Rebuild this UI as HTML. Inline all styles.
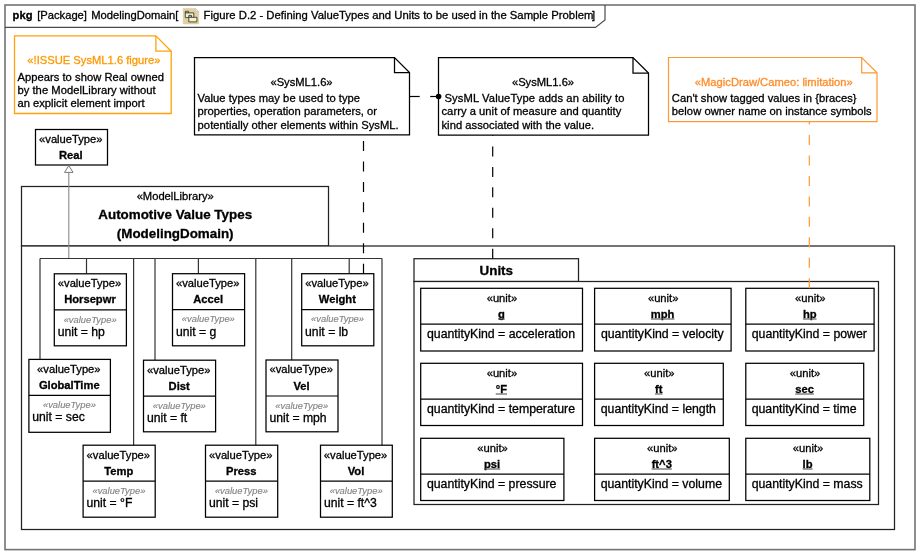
<!DOCTYPE html>
<html><head><meta charset="utf-8"><style>
html,body{margin:0;padding:0;background:#fff;}
svg{display:block;font-family:"Liberation Sans", sans-serif;will-change:transform;}

</style></head><body>
<svg width="920" height="555" viewBox="0 0 920 555">
<rect x="5" y="5" width="910" height="544.6" fill="#fff" stroke="#737373" stroke-width="1.6"/>
<path d="M5 27.4 H595.5 L605 19.9 V5" fill="none" stroke="#4a4a4a" stroke-width="1.2"/>
<text x="12.6" y="18.6" font-size="11.2" font-weight="bold" stroke="#000" stroke-width="0.3">pkg</text>
<text x="37.2" y="18.6" font-size="11.2" stroke="#000" stroke-width="0.3">[Package]</text>
<text x="91.3" y="18.6" font-size="11.2" stroke="#000" stroke-width="0.3">ModelingDomain[</text>
<g stroke-linejoin="round">
<path d="M183.2 8.4 H195.4 L198.7 11.6 V23.9 H183.2 Z" fill="#e2d1a0" stroke="#d6c590" stroke-width="0.5"/>
<path d="M195.4 8.4 V11.6 H198.7 Z" fill="#f4f4f4" stroke="#b0b0b0" stroke-width="0.5"/>
<rect x="185.3" y="11.3" width="3.3" height="1.7" fill="#f7f2c8" stroke="#3c3c3c" stroke-width="0.9"/>
<rect x="185.3" y="12.9" width="8.5" height="4.7" fill="#f7f2c8" stroke="#3c3c3c" stroke-width="0.9"/>
<rect x="188.8" y="15.4" width="2.7" height="2" fill="#cfcfae" stroke="#3c3c3c" stroke-width="0.9"/>
<rect x="188.8" y="17.3" width="8.1" height="4.6" fill="#f7f2c8" stroke="#3c3c3c" stroke-width="0.9"/>
</g>
<text x="203.6" y="18.6" font-size="11.3" stroke="#000" stroke-width="0.3">Figure D.2 - Defining ValueTypes and Units to be used in the Sample Problem</text>
<text x="592" y="18.6" font-size="11.2" stroke="#000" stroke-width="0.3">]</text>
<path d="M14.5 35.9 H155.9 L171.2 51.2 V113.5 H14.5 Z" fill="#fff" stroke="#ffa00c" stroke-width="1.3" stroke-linejoin="miter"/>
<path d="M155.9 35.9 V51.2 H171.2" fill="none" stroke="#ffa00c" stroke-width="1.3"/>
<text x="93.9" y="64.3" font-size="11.2" text-anchor="middle" fill="#ff9800" stroke="#ff9800" stroke-width="0.3">«!ISSUE SysML1.6 figure»</text>
<text x="17.4" y="80.6" font-size="11.2" stroke="#000" stroke-width="0.3" textLength="146.5" lengthAdjust="spacing">Appears to show Real owned</text>
<text x="17.4" y="93.6" font-size="11.2" stroke="#000" stroke-width="0.3" textLength="138.2" lengthAdjust="spacing">by the ModelLibrary without</text>
<text x="17.4" y="106.6" font-size="11.2" stroke="#000" stroke-width="0.3" textLength="127.3" lengthAdjust="spacing">an explicit element import</text>
<path d="M194.5 57.5 H394.5 L409.5 72.5 V134.8 H194.5 Z" fill="#fff" stroke="#000" stroke-width="1.25" stroke-linejoin="miter"/>
<path d="M394.5 57.5 V72.5 H409.5" fill="none" stroke="#000" stroke-width="1.25"/>
<text x="301.5" y="85.8" font-size="11.2" text-anchor="middle" stroke="#000" stroke-width="0.3">«SysML1.6»</text>
<text x="197.6" y="101.9" font-size="11.2" stroke="#000" stroke-width="0.3" textLength="162.5" lengthAdjust="spacing">Value types may be used to type</text>
<text x="197.6" y="115.25" font-size="11.2" stroke="#000" stroke-width="0.3" textLength="179.4" lengthAdjust="spacing">properties, operation parameters, or</text>
<text x="197.6" y="128.6" font-size="11.2" stroke="#000" stroke-width="0.3" textLength="201.1" lengthAdjust="spacing">potentially other elements within SysML.</text>
<path d="M438.5 57.5 H633.0 L648.5 73.0 V135 H438.5 Z" fill="#fff" stroke="#000" stroke-width="1.25" stroke-linejoin="miter"/>
<path d="M633.0 57.5 V73.0 H648.5" fill="none" stroke="#000" stroke-width="1.25"/>
<text x="543" y="85.8" font-size="11.2" text-anchor="middle" stroke="#000" stroke-width="0.3">«SysML1.6»</text>
<text x="444.5" y="101.9" font-size="11.2" stroke="#000" stroke-width="0.3" textLength="179.9" lengthAdjust="spacing">SysML ValueType adds an ability to</text>
<text x="441.5" y="115.25" font-size="11.2" stroke="#000" stroke-width="0.3" textLength="179.8" lengthAdjust="spacing">carry a unit of measure and quantity</text>
<text x="441.5" y="128.6" font-size="11.2" stroke="#000" stroke-width="0.3" textLength="152.7" lengthAdjust="spacing">kind associated with the value.</text>
<path d="M668.5 57.5 H861.7 L877 72.8 V121.7 H668.5 Z" fill="#fff" stroke="#ff9733" stroke-width="1.2" stroke-linejoin="miter"/>
<path d="M861.7 57.5 V72.8 H877" fill="none" stroke="#ff9733" stroke-width="1.2"/>
<text x="773.8" y="85.9" font-size="11.2" text-anchor="middle" fill="#ff8c28" stroke="#ff8c28" stroke-width="0.3">«MagicDraw/Cameo: limitation»</text>
<text x="671.8" y="102.3" font-size="11.2" stroke="#000" stroke-width="0.3" textLength="184.7" lengthAdjust="spacing">Can't show tagged values in {braces}</text>
<text x="671.8" y="115.3" font-size="11.2" stroke="#000" stroke-width="0.3" textLength="199.9" lengthAdjust="spacing">below owner name on instance symbols</text>
<line x1="409.5" y1="96.5" x2="419.7" y2="96.5" stroke="#000" stroke-width="1.2"/>
<line x1="430.2" y1="96.5" x2="438.6" y2="96.5" stroke="#000" stroke-width="1.2"/>
<circle cx="438.6" cy="96.5" r="2.8" fill="#000"/>
<rect x="35.5" y="129.5" width="72" height="35.5" fill="#fff" stroke="#000" stroke-width="1.25"/>
<text x="70.8" y="142.6" font-size="11.2" text-anchor="middle" stroke="#000" stroke-width="0.3">«valueType»</text>
<text x="70.8" y="158.7" font-size="11.2" font-weight="bold" text-anchor="middle" stroke="#000" stroke-width="0.3">Real</text>
<rect x="21.5" y="186.5" width="307" height="59.5" fill="#fff" stroke="#222" stroke-width="1.25"/>
<rect x="21.5" y="246" width="873" height="283.5" fill="#fff" stroke="#222" stroke-width="1.25"/>
<text x="175.2" y="200.1" font-size="11.2" text-anchor="middle" stroke="#000" stroke-width="0.3">«ModelLibrary»</text>
<text x="175.2" y="219" font-size="13.4" font-weight="bold" text-anchor="middle" stroke="#000" stroke-width="0.3">Automotive Value Types</text>
<text x="175.2" y="238.4" font-size="13.4" font-weight="bold" text-anchor="middle" stroke="#000" stroke-width="0.3">(ModelingDomain)</text>
<line x1="68.8" y1="172.4" x2="68.8" y2="258.5" stroke="#888" stroke-width="1.1"/>
<path d="M68.8 165.6 L73 172.4 H64.5 Z" fill="#fff" stroke="#777" stroke-width="1"/>
<line x1="40" y1="258.5" x2="382" y2="258.5" stroke="#333" stroke-width="1.2"/>
<line x1="40" y1="258.5" x2="40" y2="359.4" stroke="#333" stroke-width="1.2"/>
<line x1="86.5" y1="258.5" x2="86.5" y2="273.8" stroke="#333" stroke-width="1.2"/>
<line x1="133.6" y1="258.5" x2="133.6" y2="445.2" stroke="#333" stroke-width="1.2"/>
<line x1="155" y1="258.5" x2="155" y2="360.2" stroke="#333" stroke-width="1.2"/>
<line x1="198.4" y1="258.5" x2="198.4" y2="273.7" stroke="#333" stroke-width="1.2"/>
<line x1="255.8" y1="258.5" x2="255.8" y2="445.2" stroke="#333" stroke-width="1.2"/>
<line x1="291.7" y1="258.5" x2="291.7" y2="360" stroke="#333" stroke-width="1.2"/>
<line x1="349.2" y1="258.5" x2="349.2" y2="273.7" stroke="#333" stroke-width="1.2"/>
<line x1="382" y1="258.5" x2="382" y2="445.2" stroke="#333" stroke-width="1.2"/>
<rect x="414" y="258.7" width="164.5" height="22.8" fill="#fff" stroke="#222" stroke-width="1.25"/>
<rect x="414" y="281.5" width="464.5" height="223" fill="#fff" stroke="#222" stroke-width="1.25"/>
<text x="496.3" y="274.8" font-size="13.4" font-weight="bold" text-anchor="middle" stroke="#000" stroke-width="0.3">Units</text>
<rect x="54.3" y="273.8" width="72.10000000000001" height="72.0" fill="#fff" stroke="#000" stroke-width="1.25"/>
<line x1="54.3" y1="309.8" x2="126.4" y2="309.8" stroke="#000" stroke-width="1.2"/>
<text x="89.55" y="287.2" font-size="11.2" text-anchor="middle" stroke="#000" stroke-width="0.3">«valueType»</text>
<text x="89.95" y="303.4" font-size="11.2" font-weight="bold" text-anchor="middle" stroke="#000" stroke-width="0.3">Horsepwr</text>
<text x="90.15" y="322.5" font-size="9.4" font-style="italic" text-anchor="middle" fill="#858585" stroke="#858585" stroke-width="0.15">«valueType»</text>
<text x="57.7" y="335.7" font-size="12.2" stroke="#000" stroke-width="0.3">unit = hp</text>
<rect x="172.5" y="273.7" width="72.1" height="72.10000000000002" fill="#fff" stroke="#000" stroke-width="1.25"/>
<line x1="172.5" y1="309.7" x2="244.6" y2="309.7" stroke="#000" stroke-width="1.2"/>
<text x="207.75" y="287.1" font-size="11.2" text-anchor="middle" stroke="#000" stroke-width="0.3">«valueType»</text>
<text x="208.15" y="303.3" font-size="11.2" font-weight="bold" text-anchor="middle" stroke="#000" stroke-width="0.3">Accel</text>
<text x="208.35" y="322.4" font-size="9.4" font-style="italic" text-anchor="middle" fill="#858585" stroke="#858585" stroke-width="0.15">«valueType»</text>
<text x="175.9" y="335.6" font-size="12.2" stroke="#000" stroke-width="0.3">unit = g</text>
<rect x="301.7" y="273.7" width="72.10000000000002" height="72.10000000000002" fill="#fff" stroke="#000" stroke-width="1.25"/>
<line x1="301.7" y1="309.7" x2="373.8" y2="309.7" stroke="#000" stroke-width="1.2"/>
<text x="336.95" y="287.1" font-size="11.2" text-anchor="middle" stroke="#000" stroke-width="0.3">«valueType»</text>
<text x="337.35" y="303.3" font-size="11.2" font-weight="bold" text-anchor="middle" stroke="#000" stroke-width="0.3">Weight</text>
<text x="337.55" y="322.4" font-size="9.4" font-style="italic" text-anchor="middle" fill="#858585" stroke="#858585" stroke-width="0.15">«valueType»</text>
<text x="305.1" y="335.6" font-size="12.2" stroke="#000" stroke-width="0.3">unit = lb</text>
<rect x="28.9" y="359.4" width="81.5" height="72.90000000000003" fill="#fff" stroke="#000" stroke-width="1.25"/>
<line x1="28.9" y1="395.4" x2="110.4" y2="395.4" stroke="#000" stroke-width="1.2"/>
<text x="68.85" y="372.8" font-size="11.2" text-anchor="middle" stroke="#000" stroke-width="0.3">«valueType»</text>
<text x="69.25" y="389.0" font-size="11.2" font-weight="bold" text-anchor="middle" stroke="#000" stroke-width="0.3">GlobalTime</text>
<text x="69.45" y="408.1" font-size="9.4" font-style="italic" text-anchor="middle" fill="#858585" stroke="#858585" stroke-width="0.15">«valueType»</text>
<text x="32.3" y="421.3" font-size="12.2" stroke="#000" stroke-width="0.3">unit = sec</text>
<rect x="143.5" y="360.2" width="72.1" height="71.60000000000002" fill="#fff" stroke="#000" stroke-width="1.25"/>
<line x1="143.5" y1="396.2" x2="215.6" y2="396.2" stroke="#000" stroke-width="1.2"/>
<text x="178.75" y="373.6" font-size="11.2" text-anchor="middle" stroke="#000" stroke-width="0.3">«valueType»</text>
<text x="179.15" y="389.8" font-size="11.2" font-weight="bold" text-anchor="middle" stroke="#000" stroke-width="0.3">Dist</text>
<text x="179.35" y="408.9" font-size="9.4" font-style="italic" text-anchor="middle" fill="#858585" stroke="#858585" stroke-width="0.15">«valueType»</text>
<text x="146.9" y="422.1" font-size="12.2" stroke="#000" stroke-width="0.3">unit = ft</text>
<rect x="266" y="360" width="72" height="71.80000000000001" fill="#fff" stroke="#000" stroke-width="1.25"/>
<line x1="266" y1="396" x2="338" y2="396" stroke="#000" stroke-width="1.2"/>
<text x="301.2" y="373.4" font-size="11.2" text-anchor="middle" stroke="#000" stroke-width="0.3">«valueType»</text>
<text x="301.6" y="389.6" font-size="11.2" font-weight="bold" text-anchor="middle" stroke="#000" stroke-width="0.3">Vel</text>
<text x="301.8" y="408.7" font-size="9.4" font-style="italic" text-anchor="middle" fill="#858585" stroke="#858585" stroke-width="0.15">«valueType»</text>
<text x="269.4" y="421.9" font-size="12.2" stroke="#000" stroke-width="0.3">unit = mph</text>
<rect x="83.1" y="445.2" width="72.1" height="72.00000000000006" fill="#fff" stroke="#000" stroke-width="1.25"/>
<line x1="83.1" y1="481.2" x2="155.2" y2="481.2" stroke="#000" stroke-width="1.2"/>
<text x="118.35" y="458.6" font-size="11.2" text-anchor="middle" stroke="#000" stroke-width="0.3">«valueType»</text>
<text x="118.75" y="474.8" font-size="11.2" font-weight="bold" text-anchor="middle" stroke="#000" stroke-width="0.3">Temp</text>
<text x="118.95" y="493.9" font-size="9.4" font-style="italic" text-anchor="middle" fill="#858585" stroke="#858585" stroke-width="0.15">«valueType»</text>
<text x="86.5" y="507.1" font-size="12.2" stroke="#000" stroke-width="0.3">unit = °F</text>
<rect x="205.5" y="445.2" width="72.19999999999999" height="72.00000000000006" fill="#fff" stroke="#000" stroke-width="1.25"/>
<line x1="205.5" y1="481.2" x2="277.7" y2="481.2" stroke="#000" stroke-width="1.2"/>
<text x="240.8" y="458.6" font-size="11.2" text-anchor="middle" stroke="#000" stroke-width="0.3">«valueType»</text>
<text x="241.2" y="474.8" font-size="11.2" font-weight="bold" text-anchor="middle" stroke="#000" stroke-width="0.3">Press</text>
<text x="241.4" y="493.9" font-size="9.4" font-style="italic" text-anchor="middle" fill="#858585" stroke="#858585" stroke-width="0.15">«valueType»</text>
<text x="208.9" y="507.1" font-size="12.2" stroke="#000" stroke-width="0.3">unit = psi</text>
<rect x="320.5" y="445.2" width="71.80000000000001" height="72.00000000000006" fill="#fff" stroke="#000" stroke-width="1.25"/>
<line x1="320.5" y1="481.2" x2="392.3" y2="481.2" stroke="#000" stroke-width="1.2"/>
<text x="355.6" y="458.6" font-size="11.2" text-anchor="middle" stroke="#000" stroke-width="0.3">«valueType»</text>
<text x="356.0" y="474.8" font-size="11.2" font-weight="bold" text-anchor="middle" stroke="#000" stroke-width="0.3">Vol</text>
<text x="356.2" y="493.9" font-size="9.4" font-style="italic" text-anchor="middle" fill="#858585" stroke="#858585" stroke-width="0.15">«valueType»</text>
<text x="323.9" y="507.1" font-size="12.2" stroke="#000" stroke-width="0.3">unit = ft^3</text>
<rect x="420.7" y="288.3" width="161.8" height="62.69999999999999" fill="#fff" stroke="#000" stroke-width="1.25"/>
<line x1="420.7" y1="324.1" x2="582.5" y2="324.1" stroke="#000" stroke-width="1.2"/>
<text x="501.9" y="301.7" font-size="11.2" text-anchor="middle" stroke="#000" stroke-width="0.3">«unit»</text>
<text x="501.4" y="317.9" font-size="11.2" font-weight="bold" text-anchor="middle" stroke="#000" stroke-width="0.3">g</text>
<line x1="497.99" y1="319.0" x2="504.81" y2="319.0" stroke="#555" stroke-width="1.1"/>
<text x="501.0" y="338.4" font-size="12.3" text-anchor="middle" stroke="#000" stroke-width="0.3">quantityKind = acceleration</text>
<rect x="594.6" y="288.3" width="136.5" height="62.69999999999999" fill="#fff" stroke="#000" stroke-width="1.25"/>
<line x1="594.6" y1="324.1" x2="731.1" y2="324.1" stroke="#000" stroke-width="1.2"/>
<text x="663.15" y="301.7" font-size="11.2" text-anchor="middle" stroke="#000" stroke-width="0.3">«unit»</text>
<text x="662.65" y="317.9" font-size="11.2" font-weight="bold" text-anchor="middle" stroke="#000" stroke-width="0.3">mph</text>
<line x1="650.85" y1="319.0" x2="674.45" y2="319.0" stroke="#555" stroke-width="1.1"/>
<text x="662.25" y="338.4" font-size="12.3" text-anchor="middle" stroke="#000" stroke-width="0.3">quantityKind = velocity</text>
<rect x="745.8" y="288.3" width="128.30000000000007" height="62.69999999999999" fill="#fff" stroke="#000" stroke-width="1.25"/>
<line x1="745.8" y1="324.1" x2="874.1" y2="324.1" stroke="#000" stroke-width="1.2"/>
<text x="810.25" y="301.7" font-size="11.2" text-anchor="middle" stroke="#000" stroke-width="0.3">«unit»</text>
<text x="809.75" y="317.9" font-size="11.2" font-weight="bold" text-anchor="middle" stroke="#000" stroke-width="0.3">hp</text>
<line x1="802.92" y1="319.0" x2="816.58" y2="319.0" stroke="#555" stroke-width="1.1"/>
<text x="809.35" y="338.4" font-size="12.3" text-anchor="middle" stroke="#000" stroke-width="0.3">quantityKind = power</text>
<rect x="420.7" y="363.3" width="161.8" height="62.19999999999999" fill="#fff" stroke="#000" stroke-width="1.25"/>
<line x1="420.7" y1="399.1" x2="582.5" y2="399.1" stroke="#000" stroke-width="1.2"/>
<text x="501.9" y="376.7" font-size="11.2" text-anchor="middle" stroke="#000" stroke-width="0.3">«unit»</text>
<text x="501.4" y="392.9" font-size="11.2" font-weight="bold" text-anchor="middle" stroke="#000" stroke-width="0.3">°F</text>
<line x1="495.75" y1="394.0" x2="507.05" y2="394.0" stroke="#555" stroke-width="1.1"/>
<text x="501.0" y="413.4" font-size="12.3" text-anchor="middle" stroke="#000" stroke-width="0.3">quantityKind = temperature</text>
<rect x="594.6" y="363.3" width="128.69999999999993" height="62.19999999999999" fill="#fff" stroke="#000" stroke-width="1.25"/>
<line x1="594.6" y1="399.1" x2="723.3" y2="399.1" stroke="#000" stroke-width="1.2"/>
<text x="659.25" y="376.7" font-size="11.2" text-anchor="middle" stroke="#000" stroke-width="0.3">«unit»</text>
<text x="658.75" y="392.9" font-size="11.2" font-weight="bold" text-anchor="middle" stroke="#000" stroke-width="0.3">ft</text>
<line x1="655.03" y1="394.0" x2="662.47" y2="394.0" stroke="#555" stroke-width="1.1"/>
<text x="658.35" y="413.4" font-size="12.3" text-anchor="middle" stroke="#000" stroke-width="0.3">quantityKind = length</text>
<rect x="745.8" y="363.3" width="117.90000000000009" height="62.19999999999999" fill="#fff" stroke="#000" stroke-width="1.25"/>
<line x1="745.8" y1="399.1" x2="863.7" y2="399.1" stroke="#000" stroke-width="1.2"/>
<text x="805.05" y="376.7" font-size="11.2" text-anchor="middle" stroke="#000" stroke-width="0.3">«unit»</text>
<text x="804.55" y="392.9" font-size="11.2" font-weight="bold" text-anchor="middle" stroke="#000" stroke-width="0.3">sec</text>
<line x1="795.22" y1="394.0" x2="813.88" y2="394.0" stroke="#555" stroke-width="1.1"/>
<text x="804.15" y="413.4" font-size="12.3" text-anchor="middle" stroke="#000" stroke-width="0.3">quantityKind = time</text>
<rect x="420.7" y="438.3" width="143.2" height="62.19999999999999" fill="#fff" stroke="#000" stroke-width="1.25"/>
<line x1="420.7" y1="474.1" x2="563.9" y2="474.1" stroke="#000" stroke-width="1.2"/>
<text x="492.6" y="451.7" font-size="11.2" text-anchor="middle" stroke="#000" stroke-width="0.3">«unit»</text>
<text x="492.1" y="467.9" font-size="11.2" font-weight="bold" text-anchor="middle" stroke="#000" stroke-width="0.3">psi</text>
<line x1="484.02" y1="469.0" x2="500.18" y2="469.0" stroke="#555" stroke-width="1.1"/>
<text x="491.7" y="488.4" font-size="12.3" text-anchor="middle" stroke="#000" stroke-width="0.3">quantityKind = pressure</text>
<rect x="594.6" y="438.3" width="134.69999999999993" height="62.19999999999999" fill="#fff" stroke="#000" stroke-width="1.25"/>
<line x1="594.6" y1="474.1" x2="729.3" y2="474.1" stroke="#000" stroke-width="1.2"/>
<text x="662.25" y="451.7" font-size="11.2" text-anchor="middle" stroke="#000" stroke-width="0.3">«unit»</text>
<text x="661.75" y="467.9" font-size="11.2" font-weight="bold" text-anchor="middle" stroke="#000" stroke-width="0.3">ft^3</text>
<line x1="651.66" y1="469.0" x2="671.84" y2="469.0" stroke="#555" stroke-width="1.1"/>
<text x="661.35" y="488.4" font-size="12.3" text-anchor="middle" stroke="#000" stroke-width="0.3">quantityKind = volume</text>
<rect x="745.8" y="438.3" width="124.0" height="62.19999999999999" fill="#fff" stroke="#000" stroke-width="1.25"/>
<line x1="745.8" y1="474.1" x2="869.8" y2="474.1" stroke="#000" stroke-width="1.2"/>
<text x="808.1" y="451.7" font-size="11.2" text-anchor="middle" stroke="#000" stroke-width="0.3">«unit»</text>
<text x="807.6" y="467.9" font-size="11.2" font-weight="bold" text-anchor="middle" stroke="#000" stroke-width="0.3">lb</text>
<line x1="802.63" y1="469.0" x2="812.57" y2="469.0" stroke="#555" stroke-width="1.1"/>
<text x="807.2" y="488.4" font-size="12.3" text-anchor="middle" stroke="#000" stroke-width="0.3">quantityKind = mass</text>
<line x1="363.5" y1="273.7" x2="363.5" y2="135.3" stroke="#000" stroke-width="1.2" stroke-dasharray="10 10.45"/>
<line x1="492.7" y1="258.7" x2="492.7" y2="135.3" stroke="#000" stroke-width="1.2" stroke-dasharray="10 10.45"/>
<line x1="809.3" y1="288.2" x2="809.3" y2="121.8" stroke="#ff9733" stroke-width="1.2" stroke-dasharray="10 10.45"/>
</svg>
</body></html>
